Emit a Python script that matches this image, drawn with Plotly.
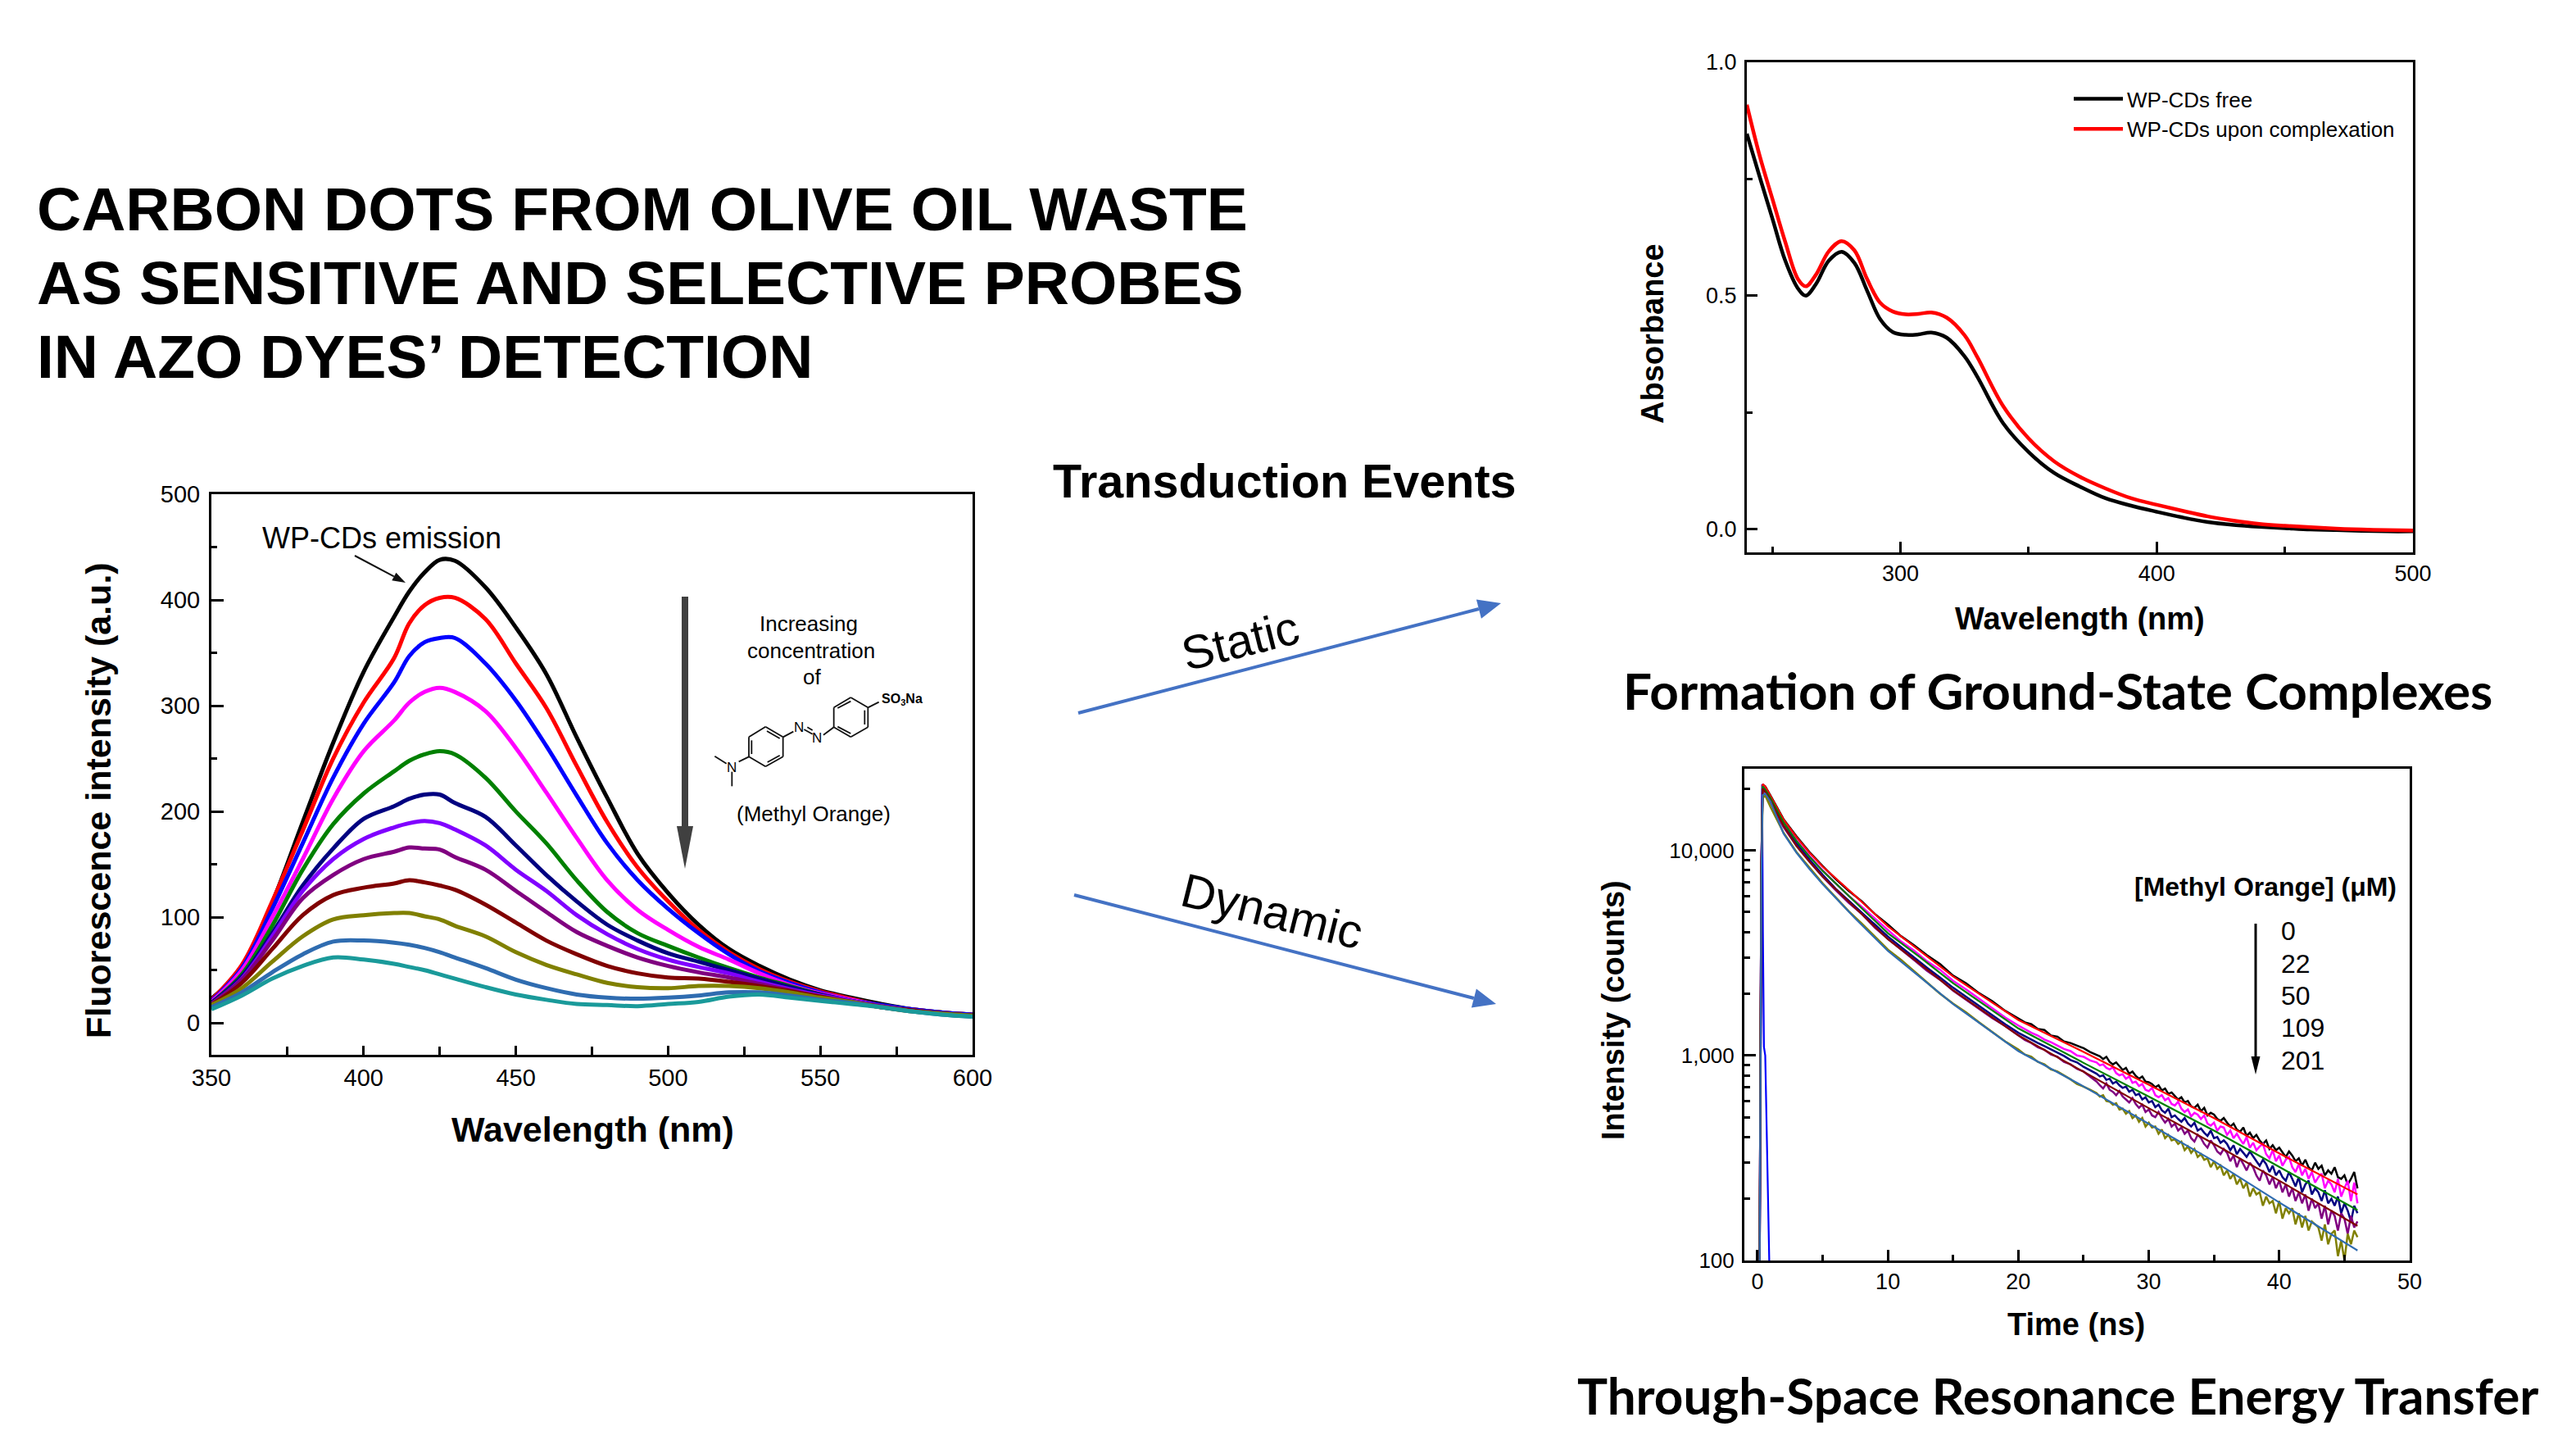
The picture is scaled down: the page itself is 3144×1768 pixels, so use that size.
import plotly.graph_objects as go

W, H = 3144, 1768
SANS = "Liberation Sans"
HEAD = "Lato"

# --- fluorescence emission spectra
wl_em = [350, 360, 370, 380, 390, 400, 410, 415, 420, 425, 430, 440, 450, 460,
         470, 480, 490, 500, 510, 520, 530, 540, 550, 560, 570, 580, 590, 600]
em_black = [23, 52, 114, 190, 265, 332, 384, 408, 426, 438, 437, 412, 374, 330, 270, 213, 160, 123, 93, 70, 54, 41, 31, 24, 18, 13, 10, 8]
em_red = [22, 55, 115, 182, 250, 303, 345, 378, 395, 402, 402, 382, 340, 298, 243, 190, 147, 115, 88, 67, 51, 39, 30, 23, 17, 13, 10, 8]
em_blue = [21, 52, 108, 170, 232, 283, 322, 347, 360, 364, 364, 340, 305, 262, 215, 170, 135, 108, 85, 65, 49, 38, 29, 22, 17, 13, 10, 8]
em_magenta = [20, 50, 100, 155, 212, 257, 286, 303, 313, 317, 313, 295, 260, 218, 175, 135, 107, 88, 72, 60, 47, 36, 28, 22, 16, 12, 9, 7]
em_green = [19, 46, 92, 145, 188, 217, 238, 248, 254, 257, 254, 232, 200, 170, 135, 105, 85, 73, 62, 52, 43, 35, 27, 21, 16, 12, 9, 7]
em_navy = [19, 44, 85, 130, 165, 193, 205, 212, 216, 216, 208, 195, 168, 140, 115, 93, 78, 66, 58, 50, 42, 34, 27, 21, 16, 12, 9, 7]
em_violet = [18, 42, 82, 125, 155, 174, 185, 189, 191, 189, 183, 168, 145, 125, 102, 84, 70, 60, 53, 47, 39, 32, 26, 21, 16, 12, 9, 7]
em_purple = [18, 41, 78, 118, 140, 155, 162, 166, 165, 164, 157, 145, 125, 105, 86, 73, 62, 54, 48, 43, 37, 31, 25, 20, 16, 12, 9, 7]
em_maroon = [17, 38, 70, 102, 121, 128, 132, 135, 133, 130, 126, 112, 95, 78, 65, 54, 47, 43, 42, 39, 35, 30, 25, 20, 15, 12, 9, 7]
em_olive = [17, 33, 58, 82, 98, 102, 104, 104, 101, 98, 92, 82, 67, 55, 46, 38, 34, 33, 35, 35, 33, 29, 24, 20, 15, 11, 9, 7]
em_steel = [15, 29, 48, 65, 77, 78, 76, 74, 71, 67, 62, 52, 41, 33, 27, 24, 23, 24, 26, 29, 29, 26, 22, 19, 15, 11, 8, 6]
em_teal = [13, 26, 42, 54, 62, 60, 56, 53, 50, 46, 42, 34, 27, 22, 18, 17, 16, 18, 20, 25, 27, 24, 21, 18, 15, 11, 8, 6]
em_series = [em_black, em_red, em_blue, em_magenta, em_green, em_navy,
             em_violet, em_purple, em_maroon, em_olive, em_steel, em_teal]
em_colors = ["#000000", "#ff0000", "#0000ff", "#ff00ff", "#008000", "#000080",
             "#8000ff", "#800080", "#800000", "#808000", "#2f6cb0", "#1a9a9a"]

# --- absorbance
wl_abs = [240, 245, 250, 255, 260, 263, 267, 272, 277, 282, 287, 292, 297, 302, 307, 312, 318, 325, 330,
          340, 350, 360, 370, 380, 390, 400, 410, 420, 430, 440, 450, 460, 470, 480, 490, 500]
abs_free = [0.847, 0.755, 0.665, 0.575, 0.515, 0.50, 0.525, 0.575, 0.594, 0.57, 0.51, 0.45, 0.422, 0.416, 0.417, 0.421, 0.41, 0.37, 0.326,
            0.227, 0.165, 0.12, 0.091, 0.066, 0.05, 0.037, 0.025, 0.015, 0.009, 0.005, 0.002, -0.001, -0.002, -0.004, -0.005, -0.005]
abs_complex = [0.909, 0.80, 0.707, 0.615, 0.535, 0.52, 0.545, 0.595, 0.617, 0.597, 0.535, 0.485, 0.466, 0.46, 0.461, 0.464, 0.453, 0.415, 0.368,
               0.264, 0.194, 0.145, 0.112, 0.087, 0.066, 0.052, 0.039, 0.027, 0.018, 0.011, 0.007, 0.004, 0.001, -0.001, -0.002, -0.003]

# --- lifetime decays, measured traces
t_raw = [0.15, 0.3, 0.4, 0.6, 1, 1.5, 2, 3, 4, 5, 6, 7, 8, 9, 10, 11, 12, 13, 14, 15, 16, 17, 18, 19,
         20, 20.5, 21, 21.5, 22, 22.5, 23, 23.5, 24, 24.5, 25, 25.5,
         26, 26.25, 26.5, 26.75, 27, 27.25, 27.5, 27.75, 28, 28.25, 28.5, 28.75, 29, 29.25, 29.5, 29.75,
         30, 30.25, 30.5, 30.75, 31, 31.25, 31.5, 31.75, 32, 32.25, 32.5, 32.75, 33, 33.25, 33.5, 33.75,
         34, 34.25, 34.5, 34.75, 35, 35.25, 35.5, 35.75, 36, 36.25, 36.5, 36.75, 37, 37.25, 37.5, 37.75,
         38, 38.25, 38.5, 38.75, 39, 39.25, 39.5, 39.75, 40, 40.25, 40.5, 40.75, 41, 41.25, 41.5, 41.75,
         42, 42.25, 42.5, 42.75, 43, 43.25, 43.5, 43.75, 44, 44.25, 44.5, 44.75, 45, 45.25, 45.5, 45.75, 46]
raw_black = [50, 8000, 21000, 20500, 18500, 16200, 14200, 11700, 9800, 8400, 7250, 6350, 5650, 4900, 4350, 3820, 3450, 3080, 2790, 2450, 2250, 2010, 1840, 1650,
             1520, 1450, 1420, 1345, 1330, 1250, 1235, 1170, 1150, 1120, 1085, 1040,
             1005, 990, 960, 985, 930, 905, 925, 890, 850, 870, 815, 835, 795, 770, 790, 745,
             740, 725, 700, 715, 675, 690, 650, 660, 635, 610, 625, 590, 600, 565, 555, 575,
             535, 555, 510, 525, 515, 490, 480, 495, 470, 450, 465, 435, 425, 445, 405, 420,
             395, 410, 385, 370, 385, 350, 365, 345, 355, 335, 320, 340, 325, 305, 315, 290,
             310, 285, 275, 300, 280, 290, 260, 275, 265, 285, 255, 250, 260, 235, 250, 270, 225]
raw_magenta = [50, 8000, 21000, 20000, 17800, 15500, 13800, 11200, 9400, 8000, 6900, 6000, 5300, 4650, 4100, 3600, 3250, 2880, 2620, 2310, 2100, 1890, 1700, 1530,
               1400, 1340, 1290, 1250, 1195, 1160, 1120, 1075, 1050, 1000, 985, 945,
               925, 895, 905, 870, 855, 875, 820, 800, 810, 770, 790, 735, 745, 710, 725, 680,
               670, 695, 640, 625, 640, 605, 620, 580, 570, 595, 550, 530, 545, 505, 525, 515,
               490, 510, 465, 455, 470, 430, 450, 445, 410, 430, 395, 415, 390, 370, 400, 355,
               375, 345, 360, 370, 330, 315, 345, 305, 325, 290, 310, 320, 285, 270, 295, 260,
               280, 250, 270, 240, 255, 265, 225, 245, 235, 215, 250, 205, 225, 245, 195, 240, 190]
raw_navy = [50, 8000, 20500, 19500, 17400, 15000, 13200, 10800, 9000, 7600, 6500, 5700, 5000, 4350, 3800, 3380, 3020, 2680, 2400, 2140, 1930, 1740, 1570, 1420,
            1290, 1240, 1190, 1150, 1110, 1070, 1025, 995, 950, 925, 880, 850,
            815, 790, 800, 760, 770, 730, 745, 715, 695, 705, 665, 680, 640, 650, 610, 625,
            590, 600, 560, 575, 540, 525, 550, 500, 510, 490, 475, 495, 465, 450, 470, 430,
            440, 420, 405, 430, 395, 400, 375, 385, 370, 345, 365, 330, 350, 335, 320, 340,
            320, 305, 290, 310, 295, 270, 290, 260, 275, 255, 245, 270, 250, 230, 255, 215,
            235, 245, 210, 225, 215, 195, 220, 190, 200, 185, 205, 170, 190, 175, 155, 185, 170]
raw_purple = [50, 8000, 20000, 19200, 17200, 14800, 13000, 10500, 8800, 7450, 6400, 5550, 4900, 4200, 3700, 3300, 2920, 2590, 2340, 2070, 1870, 1680, 1520, 1390,
              1255, 1190, 1150, 1095, 1065, 1010, 985, 930, 905, 860, 835, 790,
              745, 715, 690, 730, 680, 665, 640, 670, 630, 610, 590, 620, 580, 555, 575, 530,
              545, 510, 500, 530, 495, 470, 490, 450, 465, 430, 445, 415, 430, 395, 380, 410,
              395, 370, 355, 385, 365, 340, 330, 350, 335, 305, 325, 285, 315, 295, 275, 300,
              285, 260, 245, 275, 260, 235, 255, 225, 245, 215, 235, 205, 225, 195, 215, 190,
              210, 175, 200, 180, 190, 160, 185, 150, 175, 165, 140, 170, 160, 135, 165, 145, 155]
raw_olive = [50, 7000, 18000, 18500, 16300, 14000, 12200, 9800, 8200, 6900, 5900, 5050, 4400, 3800, 3280, 2930, 2580, 2280, 2000, 1790, 1620, 1450, 1300, 1170,
             1070, 1010, 985, 930, 905, 855, 835, 800, 765, 725, 705, 680,
             655, 630, 640, 600, 595, 575, 585, 545, 550, 520, 535, 495, 510, 475, 495, 450,
             470, 445, 450, 415, 435, 395, 410, 385, 390, 370, 380, 345, 360, 335, 350, 320,
             330, 310, 315, 285, 305, 280, 290, 260, 275, 250, 265, 235, 250, 225, 240, 205,
             225, 210, 215, 185, 205, 190, 195, 170, 195, 160, 180, 170, 180, 150, 170, 145,
             165, 140, 155, 150, 145, 125, 150, 120, 135, 140, 105, 125, 100, 135, 120, 140, 130]
raw_series = [raw_black, raw_magenta, raw_navy, raw_purple, raw_olive]
raw_colors = ["#000000", "#ff00ff", "#000080", "#800080", "#808000"]

# instrument response
t_irf = [0.15, 0.3, 0.36, 0.42, 0.5, 0.6, 0.85, 1.0]
irf = [50, 9000, 21000, 4000, 1100, 1000, 100, 50]

# fitted decays
t_fit = [0.15, 0.3, 0.4, 0.6, 1, 2, 3, 4, 5, 7.5, 10, 12.5, 15, 20, 25, 30, 35, 40, 46]
fit_red = [50, 8000, 21000, 20500, 18450, 14150, 11600, 9730, 8340, 6000, 4270, 3235, 2430, 1490, 1040, 720, 495, 333, 210]
fit_green = [50, 8000, 20500, 19800, 18000, 13700, 11100, 9300, 7940, 5600, 3945, 3000, 2250, 1355, 920, 630, 430, 286, 176]
fit_maroon = [50, 8000, 20000, 19300, 17500, 13200, 10500, 8800, 7460, 5250, 3690, 2780, 2080, 1253, 830, 553, 370, 245, 147.5]
fit_steel = [50, 7000, 18600, 18900, 17300, 12100, 9730, 8100, 6840, 4650, 3235, 2400, 1780, 1050, 706, 464, 305, 192, 112]
fit_series = [fit_red, fit_green, fit_maroon, fit_steel]
fit_colors = ["#ff0000", "#008000", "#800000", "#2f6cb0"]

mo_conc = ["0", "22", "50", "109", "201"]

decay_ticks = [100, 1000, 10000]
decay_labels = ["100", "1,000", "10,000"]
decay_minor = [200, 300, 400, 500, 600, 700, 800, 900,
               2000, 3000, 4000, 5000, 6000, 7000, 8000, 9000, 20000]


def fx(x):
    return x / W


def fy(y):
    return 1 - y / H


def note(text, x, y, size, bold=False, angle=0, family=SANS, anchor="center"):
    if bold:
        text = "<b>" + text + "</b>"
    return dict(text=text, x=fx(x), y=fy(y), xref="paper", yref="paper", showarrow=False,
                xanchor=anchor, yanchor="middle", textangle=angle,
                font=dict(family=family, size=size, color="black"))


def seg(x0, y0, x1, y1, width=2.0, color="#111111"):
    return dict(type="line", xref="paper", yref="paper", x0=fx(x0), y0=fy(y0), x1=fx(x1), y1=fy(y1),
                line=dict(width=width, color=color))


def arrow(x0, y0, x1, y1, width, head_len, head_w, color):
    # shaft plus a filled triangular head, given in page pixels
    dx, dy = x1 - x0, y1 - y0
    n = (dx * dx + dy * dy) ** 0.5
    ux, uy = dx / n, dy / n
    bx, by = x1 - ux * head_len, y1 - uy * head_len
    ax_, ay_ = bx - uy * head_w / 2, by + ux * head_w / 2
    cx_, cy_ = bx + uy * head_w / 2, by - ux * head_w / 2
    path = f"M {fx(x1)} {fy(y1)} L {fx(ax_)} {fy(ay_)} L {fx(cx_)} {fy(cy_)} Z"
    return [seg(x0, y0, bx, by, width, color),
            dict(type="path", xref="paper", yref="paper", path=path, fillcolor=color, line=dict(width=0))]


def zm(x, y):
    # coordinates of the dye drawing, measured in its own 3x crop
    return 840 + x / 3, 690 + y / 3


fig = go.Figure()

for vals, col in zip(em_series, em_colors):
    fig.add_trace(go.Scatter(x=wl_em, y=vals, mode="lines", xaxis="x", yaxis="y", showlegend=False,
                             line=dict(color=col, width=5, shape="spline", smoothing=1.0)))

fig.add_trace(go.Scatter(x=wl_abs, y=abs_free, mode="lines", xaxis="x2", yaxis="y2", name="WP-CDs free",
                         line=dict(color="#000000", width=4.5, shape="spline", smoothing=1.0)))
fig.add_trace(go.Scatter(x=wl_abs, y=abs_complex, mode="lines", xaxis="x2", yaxis="y2", name="WP-CDs upon complexation",
                         line=dict(color="#ff0000", width=4.5, shape="spline", smoothing=1.0)))

for vals, col in zip(raw_series, raw_colors):
    fig.add_trace(go.Scatter(x=t_raw, y=vals, mode="lines", xaxis="x3", yaxis="y3", showlegend=False,
                             line=dict(color=col, width=2.5)))
fig.add_trace(go.Scatter(x=t_irf, y=irf, mode="lines", xaxis="x3", yaxis="y3", showlegend=False,
                         line=dict(color="#0000ff", width=2.2)))
for vals, col in zip(fit_series, fit_colors):
    fig.add_trace(go.Scatter(x=t_fit, y=vals, mode="lines", xaxis="x3", yaxis="y3", showlegend=False,
                             line=dict(color=col, width=2.2)))

frame = dict(showline=True, linewidth=3, linecolor="black", mirror=True, showgrid=False, zeroline=False,
             ticks="inside", tickwidth=2.5, tickcolor="black")


def minor(dtick=None, tickvals=None, ticklen=7):
    m = dict(ticks="inside", ticklen=ticklen, tickwidth=2.5, tickcolor="black", showgrid=False)
    if dtick:
        m["dtick"] = dtick
    if tickvals:
        m["tickvals"] = tickvals
    return m


annotations = [
    note("CARBON DOTS FROM OLIVE OIL WASTE", 43, 255, 75, True, anchor="left"),
    note("AS SENSITIVE AND SELECTIVE PROBES", 43, 345, 75, True, anchor="left"),
    note("IN AZO DYES’ DETECTION", 43, 435, 75, True, anchor="left"),
    note("Transduction Events", 1568, 587, 57.5, True),
    note("Static", 1513, 781, 58, angle=-14),
    note("Dynamic", 1553, 1111, 58, angle=14),
    note("Formation of Ground-State Complexes", 2511, 842, 62, True, family=HEAD),
    note("Through-Space Resonance Energy Transfer", 2511, 1702, 62, True, family=HEAD),
    # emission panel
    note("Wavelength (nm)", 723, 1378, 43, True),
    note("Fluorescence intensity (a.u.)", 120, 977, 43, True, angle=-90),
    note("WP-CDs emission", 466, 656, 36),
    note("Increasing", 987, 761, 26),
    note("concentration", 990, 794, 26),
    note("of", 991, 826, 26),
    note("(Methyl Orange)", 993, 993, 26),
    note("SO<sub>3</sub>Na", *zm(782, 490), 16, True),
    note("N", *zm(405, 592), 17),
    note("N", *zm(470, 630), 17),
    note("N", *zm(160, 738), 17),
    # absorbance panel
    note("Wavelength (nm)", 2538, 755, 38, True),
    note("Absorbance", 2017, 407, 38, True, angle=-90),
    # decay panel
    note("Time (ns)", 2534, 1616, 38, True),
    note("Intensity (counts)", 1969, 1233, 38, True, angle=-90),
    note("[Methyl Orange] (μM)", 2765, 1082, 32, True),
]
for lab, yc in zip(mo_conc, [1136, 1176, 1215, 1254, 1294]):
    annotations.append(note(lab, 2782, yc, 32, anchor="left"))

shapes = []
shapes += arrow(1316, 870, 1832, 736, 4, 28, 24, "#4472c4")
shapes += arrow(1311, 1092, 1826, 1225, 4, 28, 24, "#4472c4")
shapes += arrow(836, 728, 836, 1060, 8, 52, 20, "#404040")
shapes += arrow(433, 678, 495, 711, 2, 16, 11, "#111111")
shapes += arrow(2753, 1127, 2753, 1311, 3, 22, 11, "#000000")

# methyl orange skeleton
ring_l = [(283, 590), (347, 628), (347, 700), (283, 736), (222, 700), (222, 628)]
ring_r = [(595, 483), (658, 520), (658, 592), (595, 628), (533, 592), (533, 520)]
bonds = [((232, 640), (232, 690)), ((288, 606), (335, 633)), ((290, 720), (335, 695)),
         ((646, 530), (646, 582)), ((547, 522), (595, 497)), ((547, 590), (595, 615)),
         ((347, 628), (385, 608)), ((424, 600), (455, 617)), ((436, 592), (455, 603)),
         ((495, 620), (533, 592)), ((658, 520), (698, 500)),
         ((222, 700), (185, 718)), ((140, 725), (97, 698)), ((160, 755), (160, 808))]
for ring in (ring_l, ring_r):
    bonds += [(ring[i], ring[(i + 1) % 6]) for i in range(6)]
for a, b in bonds:
    shapes.append(seg(*zm(*a), *zm(*b), width=1.8))

fig.update_layout(
    width=W, height=H, autosize=False,
    margin=dict(l=0, r=0, t=0, b=0, autoexpand=False),
    paper_bgcolor="white", plot_bgcolor="white",
    font=dict(family=SANS, color="black", size=25),
    shapes=shapes, annotations=annotations,
    legend=dict(x=fx(2526), y=fy(97), xanchor="left", yanchor="top", bgcolor="rgba(0,0,0,0)",
                font=dict(family=SANS, size=26), itemwidth=60, tracegroupgap=0),
    xaxis=dict(domain=[fx(258), fx(1187)], anchor="y", range=[350, 600], dtick=50, tick0=350, ticklen=11,
               tickfont=dict(size=29), minor=minor(dtick=25, ticklen=10), **frame),
    yaxis=dict(domain=[fy(1287), fy(603)], anchor="x", range=[-30, 500], dtick=100, tick0=0, ticklen=15,
               ticklabelstandoff=5, tickfont=dict(size=29), minor=minor(dtick=50), **frame),
    xaxis2=dict(domain=[fx(2132), fx(2945)], anchor="y2", range=[240, 500], dtick=100, tick0=300, ticklen=13,
                tickfont=dict(size=27), minor=minor(dtick=50), **frame),
    yaxis2=dict(domain=[fy(674), fy(76)], anchor="x2", range=[-0.05, 1.0], dtick=0.5, tick0=0, ticklen=13,
                ticklabelstandoff=4, tickformat=".1f", tickfont=dict(size=27), minor=minor(dtick=0.25), **frame),
    xaxis3=dict(domain=[fx(2129), fx(2941)], anchor="y3", range=[-1, 50], dtick=10, tick0=0, ticklen=13,
                tickfont=dict(size=27), minor=minor(dtick=5), **frame),
    yaxis3=dict(domain=[fy(1538), fy(938)], anchor="x3", type="log", range=[2, 4.398],
                tickvals=decay_ticks, ticktext=decay_labels, ticklen=14, ticklabelstandoff=4,
                tickfont=dict(size=26), minor=minor(tickvals=decay_minor), **frame),
)

fig.write_html("out.html", config={"displayModeBar": False},
               post_script="document.body.style.margin='0';")
